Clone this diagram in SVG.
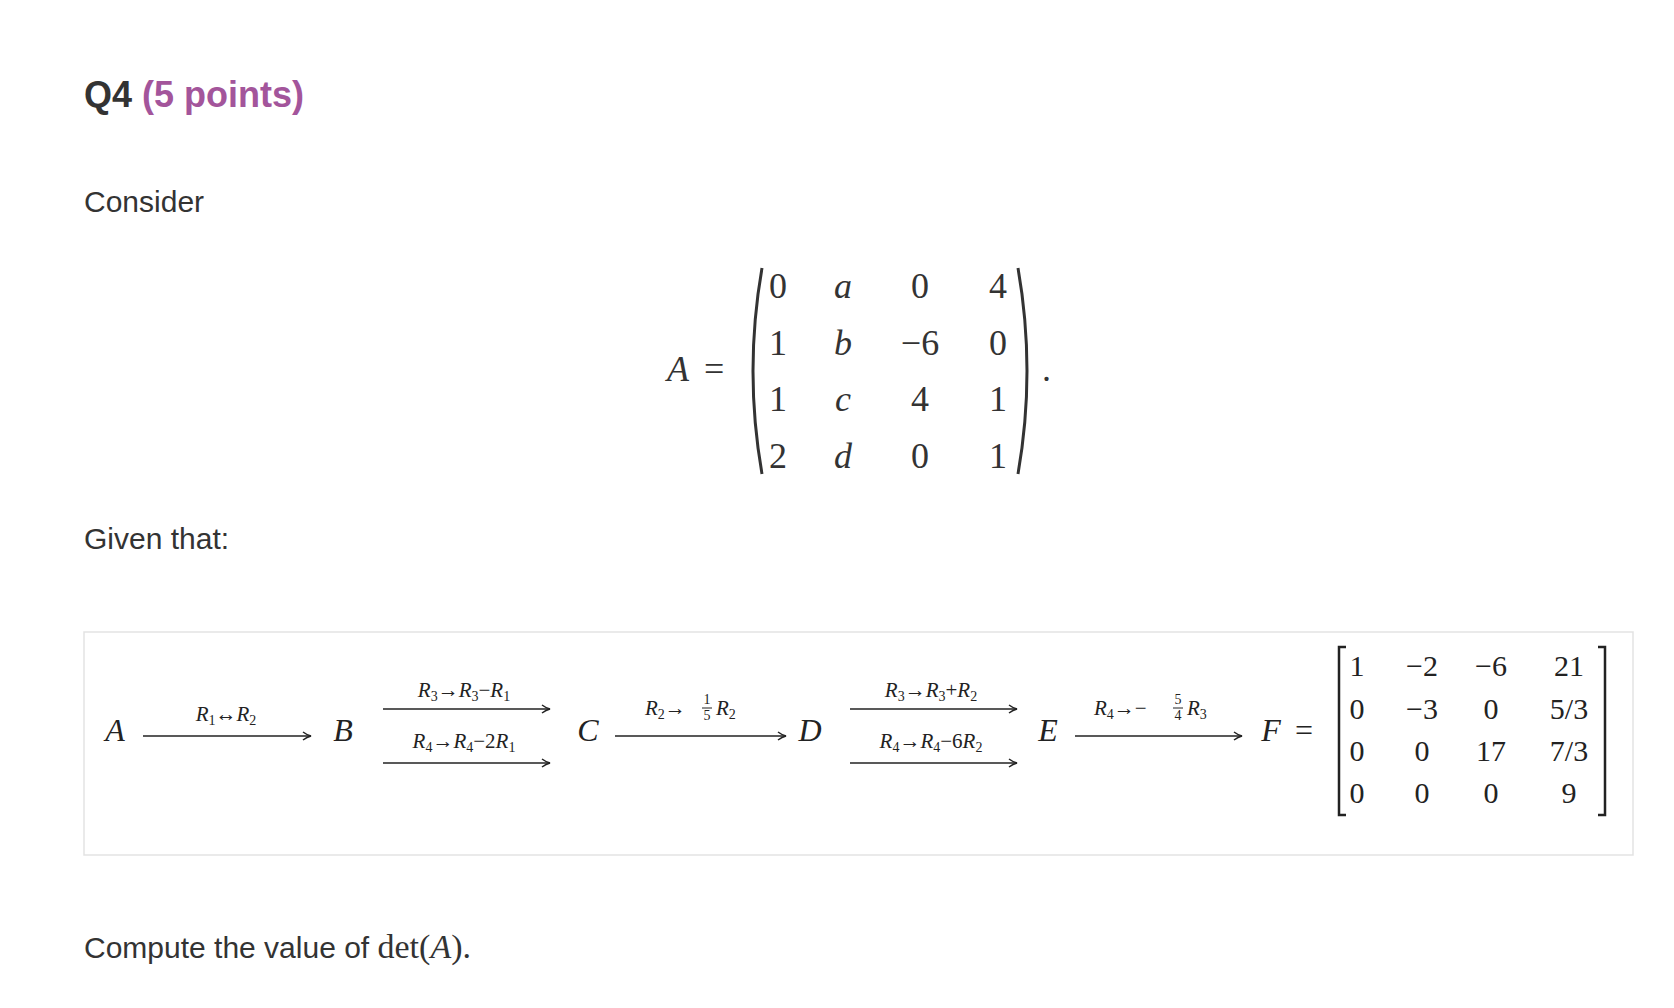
<svg xmlns="http://www.w3.org/2000/svg" width="1674" height="1008" viewBox="0 0 1674 1008">
<defs>
<marker id="ah" markerWidth="10" markerHeight="10" refX="9" refY="5" orient="auto" markerUnits="userSpaceOnUse"><path d="M1,1 Q5,4 9,5 Q5,6 1,9" fill="none" stroke="#222" stroke-width="1.5"/></marker>
</defs>
<style>
.s{font-family:"Helvetica Neue","Liberation Sans",Arial,sans-serif;fill:#333}
.m{font-family:"Liberation Serif","Times New Roman",serif;fill:#333;font-size:36px}
.mi{font-style:italic}
.c{font-family:"Liberation Serif","Times New Roman",serif;fill:#222;font-size:32px}
.l{font-family:"Liberation Serif","Times New Roman",serif;fill:#222;font-size:21px;font-style:italic}
.sub{font-size:14px;font-style:normal}
.fm{font-family:"Liberation Serif","Times New Roman",serif;fill:#222;font-size:30px;text-anchor:middle}
.ar{stroke:#222;stroke-width:1.6;fill:none}
.br{stroke:#222;stroke-width:2.5;fill:none}
</style>
<rect width="1674" height="1008" fill="#fff"/>
<g id="title"><text class="s" x="84" y="107" font-size="36" font-weight="bold">Q4 <tspan fill="#a3559b" font-weight="bold">(5 points)</tspan></text></g>
<text class="s" x="84" y="212" font-size="30">Consider</text>
<g id="matrixA">
<text class="m mi" x="667" y="381">A</text>
<text class="m" x="704" y="381">=</text>
<path d="M762,268 Q744,371 762,474" stroke="#333" stroke-width="3" fill="none"/>
<path d="M1018,268 Q1036,371 1018,474" stroke="#333" stroke-width="3" fill="none"/>
<g class="m" text-anchor="middle">
<text x="778" y="298">0</text><text x="843" y="298" class="m mi">a</text><text x="920" y="298">0</text><text x="998" y="298">4</text>
<text x="778" y="355">1</text><text x="843" y="355" class="m mi">b</text><text x="920" y="355">−6</text><text x="998" y="355">0</text>
<text x="778" y="411">1</text><text x="843" y="411" class="m mi">c</text><text x="920" y="411">4</text><text x="998" y="411">1</text>
<text x="778" y="468">2</text><text x="843" y="468" class="m mi">d</text><text x="920" y="468">0</text><text x="998" y="468">1</text>
</g>
<text class="m" x="1042" y="381">.</text>
</g>
<text class="s" x="84" y="549" font-size="30">Given that:</text>
<rect x="84" y="632" width="1549" height="223" fill="none" stroke="#e3e3e3" stroke-width="1.5"/>
<g id="nodes">
<g id="nA"><text class="c mi" x="115" y="741" text-anchor="middle">A</text></g>
<g id="nB"><text class="c mi" x="343" y="741" text-anchor="middle">B</text></g>
<g id="nC"><text class="c mi" x="588" y="741" text-anchor="middle">C</text></g>
<g id="nD"><text class="c mi" x="810" y="741" text-anchor="middle">D</text></g>
<g id="nE"><text class="c mi" x="1048" y="741" text-anchor="middle">E</text></g>
<g id="nF"><text class="c mi" x="1271" y="741" text-anchor="middle">F</text><text class="c" x="1304" y="741" text-anchor="middle">=</text></g>
<g id="matrixF">
<path class="br" d="M1346,647 H1339 V815 H1346"/>
<path class="br" d="M1598,647 H1605 V815 H1598"/>
<text class="fm" x="1357" y="676">1</text><text class="fm" x="1422" y="676">−2</text><text class="fm" x="1491" y="676">−6</text><text class="fm" x="1569" y="676">21</text>
<text class="fm" x="1357" y="719">0</text><text class="fm" x="1422" y="719">−3</text><text class="fm" x="1491" y="719">0</text><text class="fm" x="1569" y="719">5/3</text>
<text class="fm" x="1357" y="761">0</text><text class="fm" x="1422" y="761">0</text><text class="fm" x="1491" y="761">17</text><text class="fm" x="1569" y="761">7/3</text>
<text class="fm" x="1357" y="803">0</text><text class="fm" x="1422" y="803">0</text><text class="fm" x="1491" y="803">0</text><text class="fm" x="1569" y="803">9</text>
</g>
</g>
<g id="connectors">
<line class="ar" x1="143" y1="736" x2="311" y2="736" marker-end="url(#ah)"/>
<line class="ar" x1="383" y1="709" x2="550" y2="709" marker-end="url(#ah)"/>
<line class="ar" x1="383" y1="763" x2="550" y2="763" marker-end="url(#ah)"/>
<line class="ar" x1="615" y1="736" x2="786" y2="736" marker-end="url(#ah)"/>
<line class="ar" x1="850" y1="709" x2="1017" y2="709" marker-end="url(#ah)"/>
<line class="ar" x1="850" y1="763" x2="1017" y2="763" marker-end="url(#ah)"/>
<line class="ar" x1="1075" y1="736" x2="1242" y2="736" marker-end="url(#ah)"/>
<text class="l" x="226" y="721" text-anchor="middle">R<tspan class="sub" dy="4">1</tspan><tspan dy="-4" font-style="normal">↔</tspan>R<tspan class="sub" dy="4">2</tspan></text>
<text class="l" x="464" y="697" text-anchor="middle">R<tspan class="sub" dy="4">3</tspan><tspan dy="-4" font-style="normal">→</tspan>R<tspan class="sub" dy="4">3</tspan><tspan dy="-4" font-style="normal">−</tspan>R<tspan class="sub" dy="4">1</tspan></text>
<text class="l" x="464" y="748" text-anchor="middle">R<tspan class="sub" dy="4">4</tspan><tspan dy="-4" font-style="normal">→</tspan>R<tspan class="sub" dy="4">4</tspan><tspan dy="-4" font-style="normal">−2</tspan>R<tspan class="sub" dy="4">1</tspan></text>
<text class="l" x="645" y="715">R<tspan class="sub" dy="4">2</tspan><tspan dy="-4" font-style="normal">→</tspan></text>
<text class="l sub" x="707" y="704" text-anchor="middle">1</text>
<line x1="702" y1="708" x2="712" y2="708" stroke="#222" stroke-width="1"/>
<text class="l sub" x="707" y="720" text-anchor="middle">5</text>
<text class="l" x="716" y="715">R<tspan class="sub" dy="4">2</tspan></text>
<text class="l" x="931" y="697" text-anchor="middle">R<tspan class="sub" dy="4">3</tspan><tspan dy="-4" font-style="normal">→</tspan>R<tspan class="sub" dy="4">3</tspan><tspan dy="-4" font-style="normal">+</tspan>R<tspan class="sub" dy="4">2</tspan></text>
<text class="l" x="931" y="748" text-anchor="middle">R<tspan class="sub" dy="4">4</tspan><tspan dy="-4" font-style="normal">→</tspan>R<tspan class="sub" dy="4">4</tspan><tspan dy="-4" font-style="normal">−6</tspan>R<tspan class="sub" dy="4">2</tspan></text>
<text class="l" x="1094" y="715">R<tspan class="sub" dy="4">4</tspan><tspan dy="-4" font-style="normal">→−</tspan></text>
<text class="l sub" x="1178" y="704" text-anchor="middle">5</text>
<line x1="1173" y1="708" x2="1183" y2="708" stroke="#222" stroke-width="1"/>
<text class="l sub" x="1178" y="720" text-anchor="middle">4</text>
<text class="l" x="1187" y="715">R<tspan class="sub" dy="4">3</tspan></text>
</g>
<text class="s" x="84" y="958" font-size="30">Compute the value of <tspan font-family="Liberation Serif,serif" font-size="34">det(</tspan><tspan font-family="Liberation Serif,serif" font-size="34" font-style="italic">A</tspan><tspan font-family="Liberation Serif,serif" font-size="34">).</tspan></text>
</svg>
